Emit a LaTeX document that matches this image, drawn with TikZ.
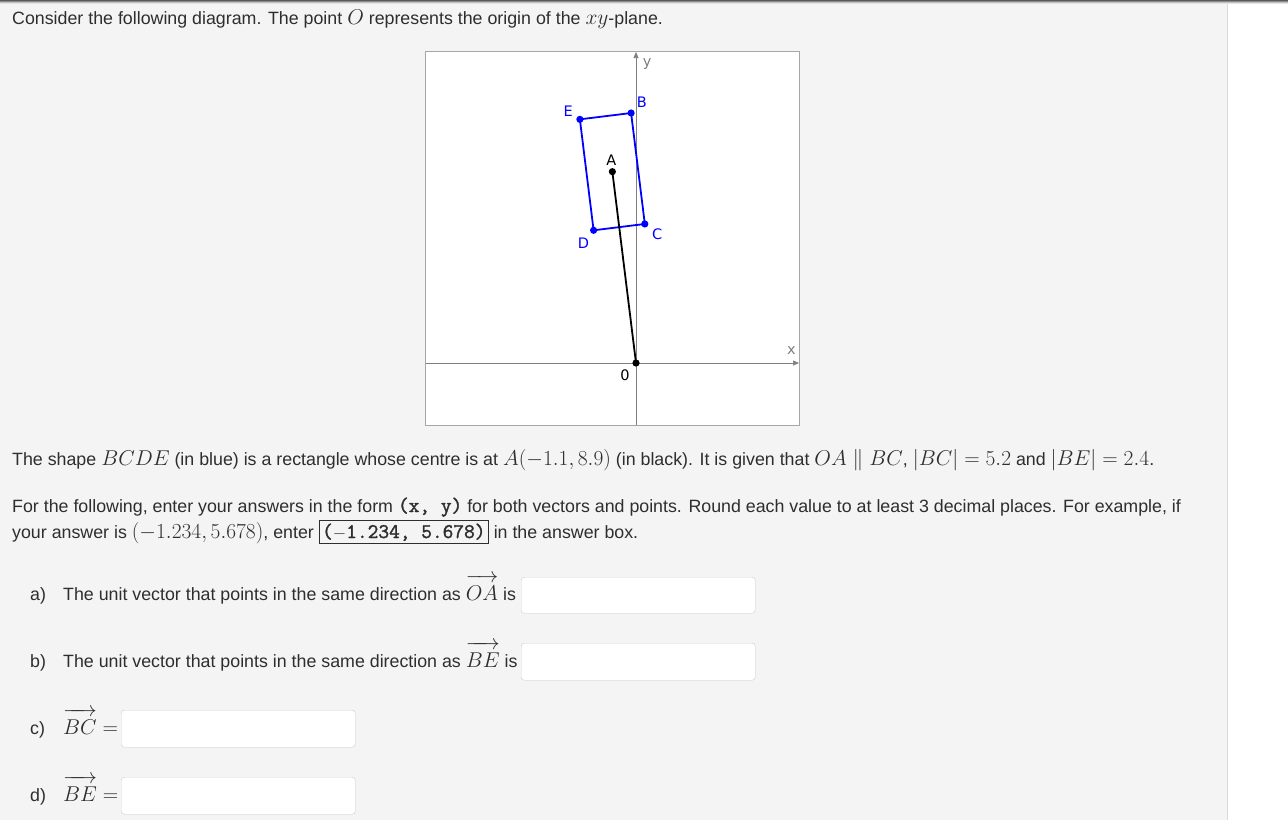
\documentclass[tikz,border=0pt]{standalone}
\usepackage{amsmath, amssymb}
\usepackage[no-math]{fontspec}
\setmainfont{Liberation Sans}
\setmonofont{Latin Modern Mono}[AutoFakeBold=1.6]
\newfontfamily\geofont{DejaVu Sans}
\usetikzlibrary{arrows.meta, positioning}
\definecolor{sfondo}{HTML}{F4F4F4}
\definecolor{bordo}{HTML}{CCCCCC}
\definecolor{assi}{HTML}{808080}
\definecolor{blu}{HTML}{0000FF}
\definecolor{inchiostro}{HTML}{2E2E2E}
\newcommand{\corpo}{\fontsize{17.8}{21}\selectfont}
\newcommand{\etich}{\geofont\fontsize{14.5}{17}\selectfont}
\newcommand{\mat}[1]{\scalebox{1.24}{$#1$}}
\newcommand{\codice}[1]{{\ttfamily\bfseries\fontsize{20.8}{22}\selectfont #1}}
\newcommand{\vett}[1]{\overrightarrow{\rule{0pt}{14pt}#1}}

\begin{document}
\begin{tikzpicture}[x=1pt, y=-1pt,
    testo/.style={anchor=base west, inner sep=0pt, font=\corpo, text=inchiostro},
    casella/.style={draw=bordo, fill=white, rounded corners=3pt, anchor=north west, minimum width=234pt},
    etichetta/.style={font=\etich, inner sep=1pt},
    asse/.style={assi, line width=0.7pt, -{Triangle[length=6pt, width=5pt]}}]
    %Parametri
    \pgfmathsetmacro{\punto}{3.6}
    \pgfmathsetmacro{\unita}{21.5}
    \pgfmathsetmacro{\lung}{veclen(-1.1,8.9)}
    \pgfmathsetmacro{\ux}{-1.1/\lung}
    \pgfmathsetmacro{\uy}{8.9/\lung}
    % Sfondo della pagina
    \useasboundingbox (0,0) rectangle (1288,820);
    \fill[sfondo] (0,0) rectangle (1227,820);
    \fill[white] (1228,0) rectangle (1288,820);
    \draw[gray!30] (1227.5,0) -- (1227.5,820);
    \foreach \r/\c in {0/65,1/45,2/25,3/10}
        \fill[black!\c] (0,\r) rectangle (1288,\r+1);
    % Prima riga
    \node[testo] (riga1) at (12,24) {Consider the following diagram. The point \mat{O} represents the origin of the \mat{xy}-plane.};
    % Riquadro e assi
    \draw[gray!70, fill=white] (425,51) rectangle (799.5,425);
    \coordinate (xinizio) at (425.5,363);
    \coordinate (xfine) at (799,363);
    \coordinate (yinizio) at (636,424.5);
    \coordinate (yfine) at (636,52);
    \draw[asse] (xinizio) -- (xfine);
    \draw[asse] (yinizio) -- (yfine);
    \node[etichetta, assi, above left=7.5pt and 2pt of xfine] (lx) {x};
    \node[etichetta, assi, below right=5.3pt and 5.7pt of yfine] (ly) {y};
    \begin{scope}[shift={(636,363)}, x=\unita pt, y=\unita pt]
        % Punti O e A
        \coordinate (O) at (0,0);
        \coordinate (A) at (-1.1,8.9);
        % Vertici del rettangolo BCDE
        \coordinate (B) at ({-1.1+2.6*\ux+1.2*\uy},{8.9+2.6*\uy-1.2*\ux});
        \coordinate (C) at ({-1.1-2.6*\ux+1.2*\uy},{8.9-2.6*\uy-1.2*\ux});
        \coordinate (D) at ({-1.1-2.6*\ux-1.2*\uy},{8.9-2.6*\uy+1.2*\ux});
        \coordinate (E) at ({-1.1+2.6*\ux-1.2*\uy},{8.9+2.6*\uy+1.2*\ux});
        \draw[blu, line width=1.8pt] (B) -- (C) -- (D) -- (E) -- cycle;
        \draw[line width=1.8pt] (O) -- (A);
        \foreach \p in {B,C,D,E}
            \fill[blu] (\p) circle (\punto pt);
        \fill (A) circle (\punto pt);
        \fill (O) circle (\punto pt);
        % Etichette
        \node[etichetta, blu, above left=1.8pt and 6pt of E] (lE) {E};
        \node[etichetta, blu, above right=4.8pt and 4.5pt of B] (lB) {B};
        \node[etichetta, blu, below right=3.6pt and 6pt of C] (lC) {C};
        \node[etichetta, blu, below left=6.7pt and 3.3pt of D] (lD) {D};
        \node[etichetta, above=5.4pt of A, xshift=-1pt] (lA) {A};
        \node[etichetta, below left=5.5pt and 5.3pt of O] (lO) {0};
    \end{scope}
    % Testo sotto il grafico
    \node[testo] (riga2) at (12,465) {The shape \mat{BCDE} (in blue) is a rectangle whose centre is at \mat{A(-1.1,8.9)} (in black). It is given that \mat{OA\parallel BC}, \mat{|BC|=5.2} and \mat{|BE|=2.4}.};
    \node[testo] (riga3) at (12,512) {For the following, enter your answers in the form \codice{(x, y)} for both vectors and points. Round each value to at least 3 decimal places. For example, if};
    \node[testo] (riga4) at (12,538) {your answer is \mat{(-1.234,5.678)}, enter {\fboxsep=2.5pt\fboxrule=0.8pt\fbox{\codice{(}$-$\codice{1.234, 5.678)}}} in the answer box.};
    % Domande
    \node[testo] (etA) at (30,600) {a)};
    \node[testo] (domA) at (63,600) {The unit vector that points in the same direction as \mat{\vett{OA}} is};
    \node[casella, minimum height=36pt] (rispA) at (521,577) {};
    \node[testo] (etB) at (30,667) {b)};
    \node[testo] (domB) at (63,667) {The unit vector that points in the same direction as \mat{\vett{BE}} is};
    \node[casella, minimum height=37pt] (rispB) at (521,643) {};
    \node[testo] (etC) at (30,734) {c)};
    \node[testo] (domC) at (63,734) {\mat{\vett{BC} =}};
    \node[casella, minimum height=37pt] (rispC) at (121,710) {};
    \node[testo] (etD) at (30,801) {d)};
    \node[testo] (domD) at (63,801) {\mat{\vett{BE} =}};
    \node[casella, minimum height=37pt] (rispD) at (121,777) {};
\end{tikzpicture}
\end{document}
